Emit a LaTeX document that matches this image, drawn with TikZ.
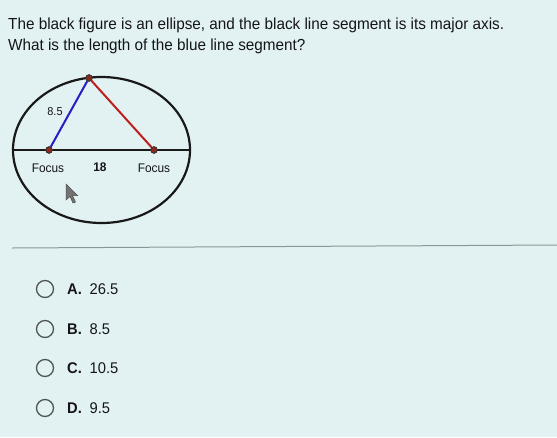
\documentclass[tikz,border=0pt]{standalone}
\usepackage{fontspec}
\setmainfont{Liberation Sans}
\newfontfamily\qfont[FakeStretch=0.955]{Liberation Sans}
\newfontfamily\lfont[FakeStretch=0.95]{Liberation Sans}
\definecolor{bgc}{RGB}{226,242,242}
\definecolor{txt}{RGB}{20,20,25}
\definecolor{bluel}{RGB}{40,30,200}
\definecolor{redl}{RGB}{190,30,30}
\definecolor{dotc}{RGB}{140,40,30}
\definecolor{rulec}{RGB}{140,150,150}
\definecolor{radc}{RGB}{80,85,85}
\begin{document}
\begin{tikzpicture}[x=1pt,y=-1pt,
  question/.style={anchor=base west,inner sep=0pt,font=\qfont\fontsize{16}{19}\selectfont,text=txt},
  lbl/.style={inner sep=0pt,font=\lfont\fontsize{12.5}{14}\selectfont,text=txt},
  opt/.style={anchor=base west,inner sep=0pt,font=\lfont\fontsize{15.5}{18}\selectfont,text=txt},
  radio/.style={circle,draw=radc,line width=1.3pt,minimum size=17pt,inner sep=0pt},
  focusdot/.style={circle,fill=dotc,draw=black!80,line width=0.7pt,minimum size=6.5pt,inner sep=0pt},
  ell/.style={draw=black!90,line width=2.2pt},
  seg/.style={line width=2pt}]
\fill[bgc] (0,0) rectangle (557,437);
\useasboundingbox (0,0) rectangle (557,437);
% question
\node[question] (q1) at (8,29) {The black figure is an ellipse, and the black line segment is its major axis.};
\node[question] (q2) at (8,50) {What is the length of the blue line segment?};
% ellipse
\draw[ell] (101.5,150) ellipse [x radius=88.5, y radius=73];
\coordinate (L) at (13,150);
\coordinate (R) at (190,150);
\draw[ell] (L) -- (R);
\node[focusdot] (f1) at (49,150) {};
\node[focusdot] (f2) at (154,150) {};
\node[focusdot] (top) at (89,78) {};
\draw[seg,bluel] (f1) -- (top);
\draw[seg,redl] (top) -- (f2);
\node[focusdot] at (49,150) {};
\node[focusdot] at (154,150) {};
\node[focusdot] at (89,78) {};
\node[lbl,font=\lfont\fontsize{11.5}{13}\selectfont] (d) at (55,112) {8.5};
\node[lbl] (fl) at (48,168) {Focus};
\node[lbl,font=\lfont\bfseries\fontsize{12.5}{14}\selectfont] (n18) at (100,167) {18};
\node[lbl] (fr) at (154,168) {Focus};
% cursor
\fill[black!55,draw=black!70,line width=0.5pt,shift={(66,184)}]
  (0,0) -- (0,16) -- (4,12.5) -- (7,19) -- (9.5,18) -- (6.5,11.5) -- (11.5,11.5) -- cycle;
% separator
\draw[rulec,line width=1pt] (12,248) -- (557,245);
% options
\node[radio] (r1) at (45,289) {};
\node[radio] (r2) at (45,329) {};
\node[radio] (r3) at (45,368) {};
\node[radio] (r4) at (45,408) {};
\node[opt] (a1) at (67,294.5) {\textbf{A.}\enspace 26.5};
\node[opt] (a2) at (67,334.5) {\textbf{B.}\enspace 8.5};
\node[opt] (a3) at (67,373.5) {\textbf{C.}\enspace 10.5};
\node[opt] (a4) at (67,413.5) {\textbf{D.}\enspace 9.5};
\end{tikzpicture}
\end{document}
